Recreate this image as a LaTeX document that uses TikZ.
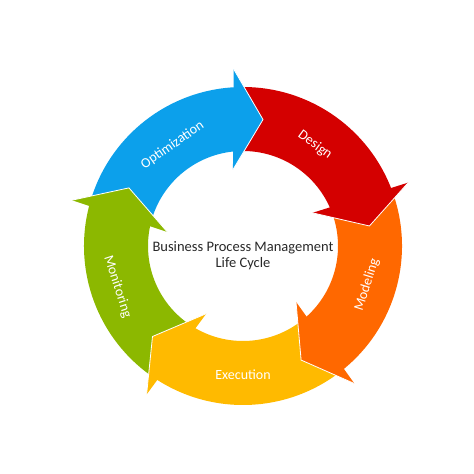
\documentclass[tikz,border=0pt]{standalone}
\usepackage{fontspec}
\setmainfont{Carlito}
\definecolor{cBlue}{RGB}{12,160,235}
\definecolor{cRed}{RGB}{212,0,0}
\definecolor{cOrange}{RGB}{255,104,0}
\definecolor{cYellow}{RGB}{255,186,0}
\definecolor{cGreen}{RGB}{140,184,0}
\definecolor{textgray}{RGB}{40,40,40}
\begin{document}
\begin{tikzpicture}[x=1pt,y=1pt,
  lbl/.style={text=white,font=\fontsize{14}{16}\selectfont,inner sep=0pt},
  ttl/.style={text=textgray,font=\fontsize{14.5}{16}\selectfont,inner sep=0pt,anchor=base},
  sepline/.style={draw=white,line width=0.8pt,line join=miter}]
\useasboundingbox (0,0) rectangle (474,474);
\begin{scope}[shift={(243,228)}]
  % arrow bodies
  \foreach \c/\t in {cBlue/81,cRed/9,cOrange/-63,cYellow/-135,cGreen/-207}{
    \pgfmathsetmacro{\a}{\t+12}
    \pgfmathsetmacro{\b}{\t+84}
    \fill[\c] (\a:159pt) arc[start angle=\a,end angle=\b,radius=159pt]
      -- (\b:95pt) arc[start angle=\b,end angle=\a,radius=95pt] -- cycle;
  }
  % arrow heads
  \foreach \c/\t in {cBlue/81,cRed/9,cOrange/-63,cYellow/-135,cGreen/-207}{
    \pgfmathsetmacro{\o}{\t+12}
    \pgfmathsetmacro{\i}{\t+16.5}
    \fill[\c] (\o:177pt) -- (\t:128pt) -- (\i:77pt) -- cycle;
    \draw[sepline] (\o:177pt) -- (\t:128pt) -- (\i:77pt);
  }
  % labels
  \node[lbl,rotate=35] (opt) at (125:123pt) {Optimization};
  \node[lbl,rotate=-36] (des) at (54.5:124pt) {Design};
  \node[lbl,rotate=72.5] (mod) at (-17.5:130pt) {Modeling};
  \node[lbl] (exe) at (-90:129pt) {Execution};
  \node[lbl,rotate=-72] (mon) at (198:132pt) {Monitoring};
  % title
  \node[ttl] (title1) at (0,-5.7) {Business Process Management};
  \node[ttl] (title2) at (0,-21.7) {Life Cycle};
\end{scope}
\end{tikzpicture}
\end{document}
